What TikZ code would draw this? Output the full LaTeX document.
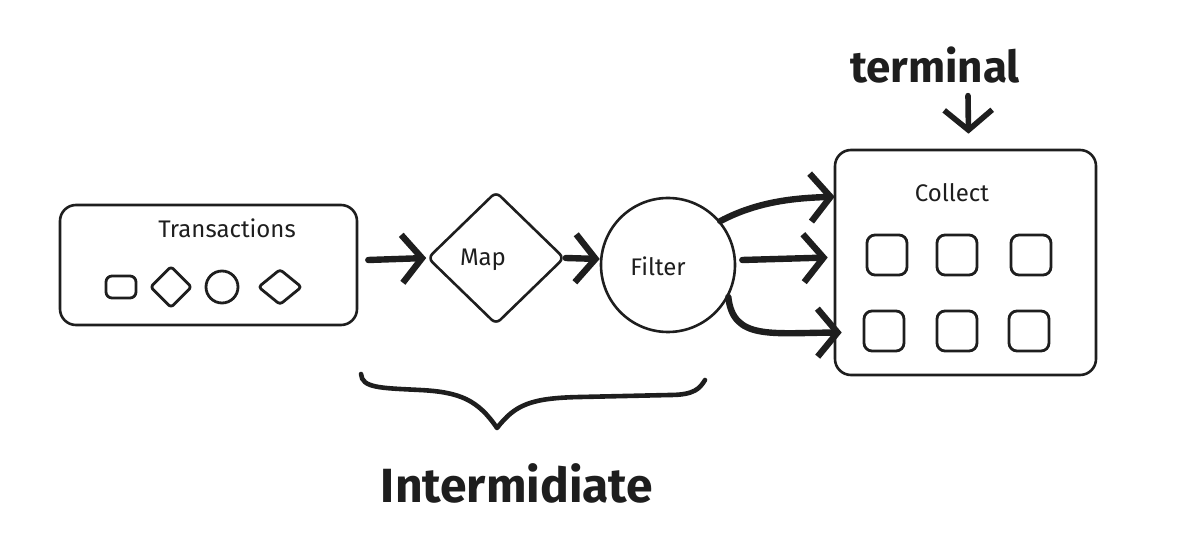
\documentclass[tikz,border=0pt]{standalone}
\usepackage{fontspec}
\setmainfont{Fira Sans}
\usetikzlibrary{arrows.meta,shapes.geometric}
\definecolor{ink}{HTML}{1E1E1E}
\begin{document}
\begin{tikzpicture}[x=0.5pt,y=-0.5pt, line join=round, line cap=round,
  every node/.style={text=ink},
  box/.style={draw=ink, line width=1.3pt, rounded corners=8pt, inner sep=0pt},
  sq/.style={draw=ink, line width=1.4pt, rounded corners=4pt, minimum width=20pt, minimum height=20pt, inner sep=0pt},
  dia/.style={draw=ink, diamond, line width=1.4pt, rounded corners=1.5pt, inner sep=0pt},
  lbl/.style={font=\fontsize{12}{14}\selectfont, inner sep=0pt},
  big/.style={font=\fontsize{22}{26}\selectfont\bfseries, inner sep=0pt},
  flow/.style={draw=ink, line width=3.2pt, -{Straight Barb[length=10pt,width=24pt]}},
  brace/.style={draw=ink, line width=2.3pt}
]
\useasboundingbox (0,0) rectangle (1200,545);

% Transactions
\node[box, minimum width=148.5pt, minimum height=60pt] (trans) at (208.5,265) {};
\node[lbl] (translbl) at (227,228) {Transactions};
\node[sq, minimum width=15pt, minimum height=11pt, rounded corners=3pt] (t1) at (121,287) {};
\node[dia, minimum width=21pt, minimum height=21pt] (t2) at (171,287) {};
\node[draw=ink, circle, line width=1.4pt, minimum size=16pt, inner sep=0pt] (t3) at (222,287) {};
\node[dia, minimum width=22pt, minimum height=18pt] (t4) at (280,287) {};

% Map
\node[dia, line width=1.3pt, minimum width=68.5pt, minimum height=66.5pt, rounded corners=3pt] (map) at (496,258) {};
\node[lbl] (maplbl) at (483,260) {Map};

% Filter
\node[draw=ink, circle, line width=1.3pt, minimum size=67pt, inner sep=0pt] (filter) at (668,265) {};
\node[lbl] (filterlbl) at (658,266) {Filter};

% Collect
\node[box, minimum width=130.5pt, minimum height=112.5pt] (collect) at (965.5,262.5) {};
\node[lbl] (collectlbl) at (952,193) {Collect};
\node[sq] (c1) at (887,255) {};
\node[sq] (c2) at (957,255) {};
\node[sq] (c3) at (1031,255) {};
\node[sq] (c4) at (884,331) {};
\node[sq] (c5) at (957,331) {};
\node[sq] (c6) at (1029,331) {};

% terminal
\node[big] (terminal) at (935,65) {terminal};
\draw[flow, line width=2.8pt] ([xshift=16.5pt,yshift=-6pt]terminal.south) -- ([xshift=1.5pt,yshift=7.5pt]collect.north);

% flows
\draw[flow] ([xshift=5pt,yshift=2.5pt]trans.east) -- (map.west);
\draw[flow] (map.east) -- ([yshift=3pt]filter.west);
\draw[flow] (filter.40) .. controls (760,200) and (800,198) .. ([xshift=0.5pt,yshift=-24pt]collect.north west);
\draw[flow] ([xshift=3pt,yshift=2.5pt]filter.east) -- ([xshift=-3pt,yshift=2.5pt]collect.west);
\draw[flow] (filter.-28) .. controls (733,340) and (770,333) .. ([xshift=4pt,yshift=-35pt]collect.west);

% brace
\draw[brace] (361,374) .. controls (362,388) and (380,388) .. (420,390)
  .. controls (460,392) and (478,400) .. (497,428)
  .. controls (515,405) and (530,398) .. (580,397) -- (670,395)
  .. controls (695,395) and (700,388) .. (705,380);
\node[big, font=\fontsize{24}{28}\selectfont\bfseries] (inter) at (517,483) {Intermidiate};
\end{tikzpicture}
\end{document}
